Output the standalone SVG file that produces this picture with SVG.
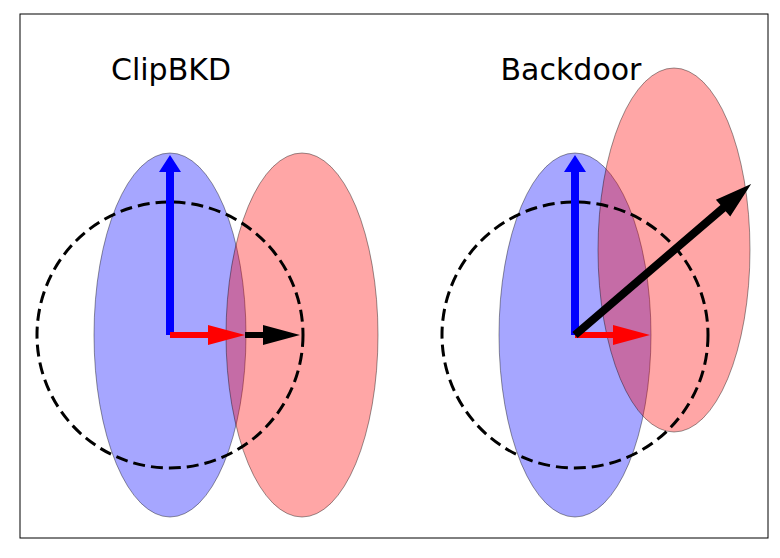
<svg xmlns="http://www.w3.org/2000/svg" width="780" height="558" viewBox="0 0 780 558">
<style>
.b{fill:#0000ff;fill-opacity:0.35;stroke:#000;stroke-opacity:0.4;stroke-width:1}
.r{fill:#ff0000;fill-opacity:0.35;stroke:#000;stroke-opacity:0.4;stroke-width:1}
.c{fill:none;stroke:#000;stroke-width:3;stroke-dasharray:12,6}
.t{font-family:"DejaVu Sans",sans-serif;font-size:30px;text-anchor:middle}
</style>
<rect x="0" y="0" width="780" height="558" fill="#fff"/>
<rect x="20" y="14" width="748" height="524" fill="none" stroke="#000" stroke-width="1"/>
<g id="clipbkd">
<text class="t" x="171" y="80">ClipBKD</text>
<ellipse class="b" cx="170" cy="335" rx="76" ry="182"/>
<ellipse class="r" cx="302" cy="335" rx="76" ry="182"/>
<circle class="c" cx="170" cy="335" r="133"/>
</g>
<g id="backdoor">
<text class="t" x="571" y="80">Backdoor</text>
<ellipse class="b" cx="575" cy="335" rx="76" ry="182"/>
<ellipse class="r" cx="674" cy="250" rx="76" ry="182"/>
<circle class="c" cx="575" cy="335" r="133"/>
</g>
<g id="connectors">
<polygon fill="#0000ff" points="166,335 166,172 159,172 170,155 181,172 174,172 174,335"/>
<polygon fill="#ff0000" points="170,332 208,332 208,325 245,335 208,345 208,338 170,338"/>
<polygon fill="#000" points="245,332 263,332 263,325 300,335 263,345 263,338 245,338"/>
<polygon fill="#0000ff" points="571,335 571,172 564,172 575,155 586,172 579,172 579,335"/>
<polygon fill="#ff0000" points="575,332 613,332 613,325 650,335 613,345 613,338 575,338"/>
<g transform="translate(575,335) rotate(-40.6)">
<polygon fill="#000" points="0,-4 195,-4 195,-11 232,0 195,11 195,4 0,4"/>
</g>
</g>
</svg>
